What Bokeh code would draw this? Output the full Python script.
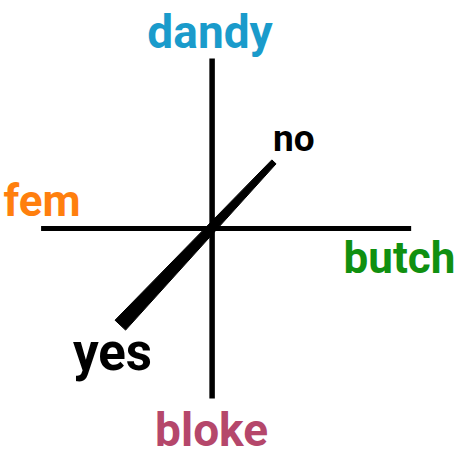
import numpy as np
from bokeh.plotting import figure
from bokeh.models import Range1d
from bokeh.core.properties import value
from bokeh.embed import file_html
from bokeh.resources import INLINE

# ---- data ----
axis_labels = ["dandy", "fem", "butch", "bloke"]
axis_colors = ["#1a9bcb", "#ff7f0e", "#109010", "#b5476b"]
diag_labels = ["no", "yes"]

# horizontal axis (fem <-> butch) and vertical axis (bloke <-> dandy)
h_axis_x = [-177, 206]
h_axis_y = [0, 0]
v_axis_x = [0, 0]
v_axis_y = [-176, 176]

# diagonal axis (yes <-> no), tapered
diag_x = [-95, 64]     # yes end, no end
diag_y = [-100, 69]
diag_w = [15, 6]       # widths at yes end, no end

# ---- layout (label anchors: left / baseline, font size in px) ----
label_pos = {
    "dandy": (-67, 186, 46),
    "fem": (-216, 12, 44),
    "butch": (136, -47, 44),
    "bloke": (-59, -226, 46),
    "no": (63, 79, 37),
    "yes": (-144, -147, 51),
}
FONT = "Roboto"
W = H = 458
XR = (-219, 255)
YR = (-238, 236)
scale = H / (YR[1] - YR[0])
BASELINE_SHIFT = 0.36   # svg alphabetic baseline renders lower by ~0.36em

p = figure(width=W, height=H, output_backend="svg", toolbar_location=None,
           x_range=Range1d(*XR), y_range=Range1d(*YR),
           min_border=0, outline_line_color=None, background_fill_color="white")
p.axis.visible = False
p.grid.visible = False

p.line(h_axis_x, h_axis_y, line_width=5, line_color="black", line_cap="butt")
p.line(v_axis_x, v_axis_y, line_width=5.5, line_color="black", line_cap="butt")

# tapered diagonal built from its end points and widths
x0, x1 = diag_x
y0, y1 = diag_y
d = np.array([x1 - x0, y1 - y0], dtype=float)
d /= np.hypot(*d)
n = np.array([-d[1], d[0]])
w0, w1 = diag_w[0] / 2, diag_w[1] / 2
px = [x0 + n[0] * w0, x1 + n[0] * w1, x1 - n[0] * w1, x0 - n[0] * w0]
py = [y0 + n[1] * w0, y1 + n[1] * w1, y1 - n[1] * w1, y0 - n[1] * w0]
p.patch(px, py, fill_color="black", line_color="black", line_width=1)

for lab, col in zip(axis_labels + diag_labels, axis_colors + ["black", "black"]):
    x, y, fs = label_pos[lab]
    y_adj = y + BASELINE_SHIFT * fs / scale
    p.text(x=[x], y=[y_adj], text=[lab], text_color=col, text_font=value(FONT),
           text_font_style="bold", text_font_size=value(f"{fs}px"),
           text_align="left", text_baseline="alphabetic")

open("out.html", "w").write(file_html(p, INLINE))
